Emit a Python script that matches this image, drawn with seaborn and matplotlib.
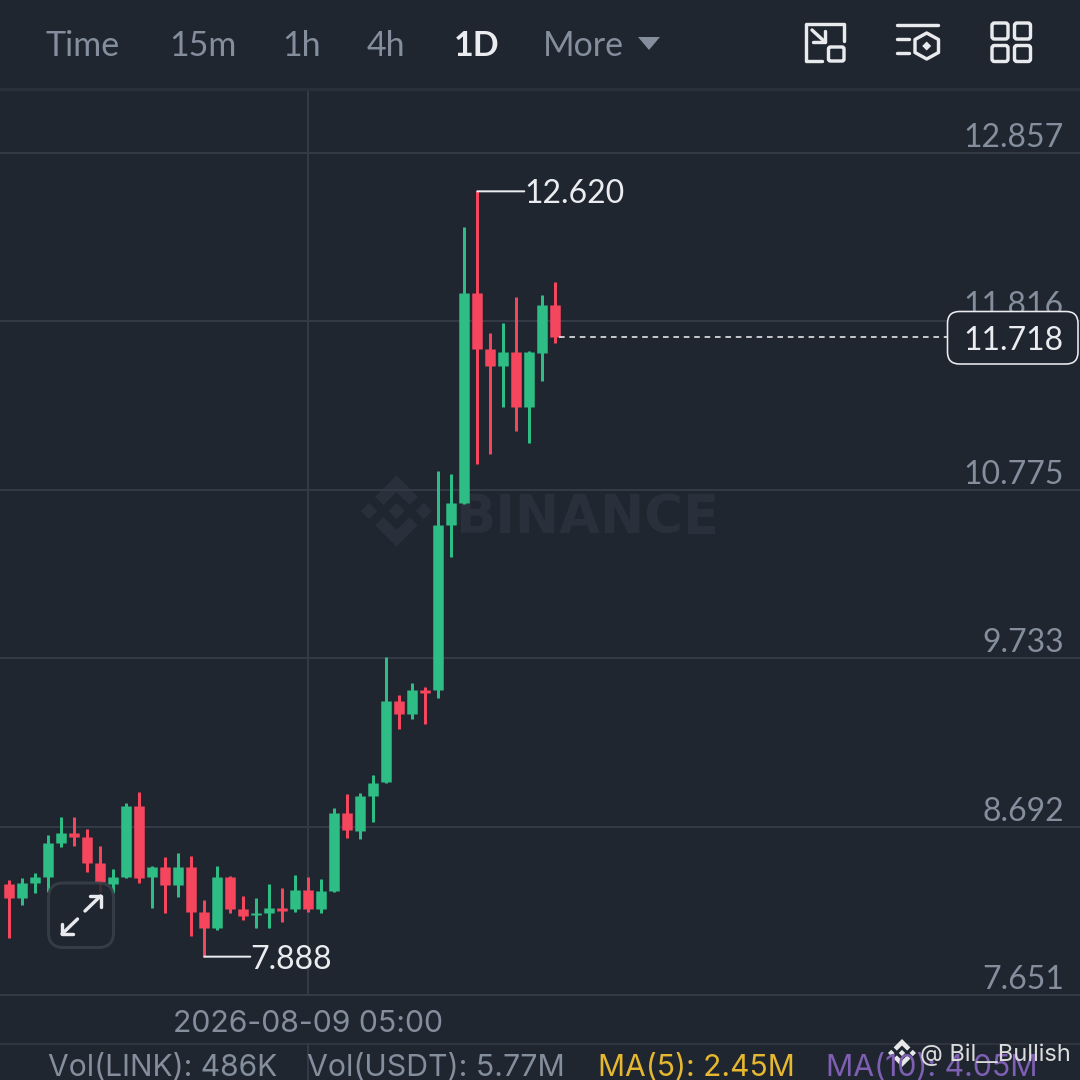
import numpy as np
import pandas as pd
import seaborn as sns
import matplotlib.pyplot as plt
from matplotlib.patches import FancyBboxPatch, Polygon

# daily candles, oldest first
opens = [8.531, 8.337, 8.249, 8.342, 8.379, 8.589, 8.655, 8.626, 8.465, 8.337, 8.379, 8.822, 8.379, 8.440,
         8.331, 8.445, 8.166, 8.063, 8.379, 8.181, 8.144, 8.156, 8.189, 8.183, 8.300, 8.181, 8.296, 8.774,
         8.667, 8.883, 8.966, 9.467, 9.388, 9.537, 9.537, 10.555, 10.691, 11.990, 11.647, 11.542, 11.627,
         11.288, 11.622, 11.917]
highs = [8.540, 8.362, 8.372, 8.403, 8.640, 8.754, 8.750, 8.675, 8.572, 8.432, 8.836, 8.908, 8.449, 8.506,
         8.527, 8.511, 8.238, 8.449, 8.387, 8.263, 8.249, 8.335, 8.311, 8.393, 8.383, 8.366, 8.805, 8.892,
         8.898, 9.011, 9.743, 9.506, 9.582, 9.554, 10.891, 10.872, 12.401, 12.620, 11.742, 11.808, 11.965,
         11.631, 11.979, 12.058]
lows = [8.330, 8.001, 8.208, 8.284, 8.286, 8.564, 8.572, 8.410, 8.290, 8.280, 8.372, 8.346, 8.187, 8.156,
        8.259, 8.018, 7.888, 8.053, 8.156, 8.115, 8.063, 8.063, 8.100, 8.162, 8.166, 8.160, 8.286, 8.620,
        8.616, 8.723, 8.962, 9.294, 9.356, 9.327, 9.485, 10.361, 10.687, 10.934, 10.996, 11.288, 11.140,
        11.066, 11.449, 11.680]
closes = [8.342, 8.249, 8.346, 8.379, 8.589, 8.655, 8.626, 8.465, 8.352, 8.379, 8.822, 8.372, 8.440, 8.331,
          8.445, 8.166, 8.063, 8.379, 8.183, 8.142, 8.160, 8.187, 8.173, 8.300, 8.181, 8.294, 8.774, 8.671,
          8.881, 8.964, 9.467, 9.388, 9.537, 9.520, 10.557, 10.691, 11.990, 11.647, 11.542, 11.627, 11.288,
          11.625, 11.917, 11.718]

price_ticks = [12.857, 11.816, 10.775, 9.733, 8.692, 7.651]
price_labels = ["12.857", "11.816", "10.775", "9.733", "8.692", "7.651"]
high_label = "12.620"
low_label = "7.888"
last_label = "11.718"
date_label = "2026-08-09 05:00"
intervals = ["Time", "15m", "1h", "4h", "1D", "More"]

BG = "#1f2630"
GRID = "#333a45"
GREEN = "#2ebd85"
RED = "#f6465d"
MUTED = "#848e9c"
LIGHT = "#eaecef"
NUM_FONT = ["Lato", "DejaVu Sans"]

sns.set_theme(style="dark", rc={"figure.facecolor": BG, "axes.facecolor": BG})
plt.rcParams["font.family"] = ["Inter", "DejaVu Sans"]

df = pd.DataFrame({"day": np.arange(len(opens)) - 1, "open": opens, "high": highs, "low": lows, "close": closes})
df["direction"] = np.where(df["close"] >= df["open"], "up", "down")
palette = {"up": GREEN, "down": RED}

wicks = df.melt(id_vars=["day", "direction"], value_vars=["low", "high"], value_name="price")
bodies = df.melt(id_vars=["day", "direction"], value_vars=["open", "close"], value_name="price")

fig = plt.figure(figsize=(10.8, 10.8), dpi=100)

# overlays work in image pixels, chart axes in days and prices
back = fig.add_axes([0, 0, 1, 1], zorder=0)
ax = fig.add_axes([0, 0, 1, 1], zorder=1)
front = fig.add_axes([0, 0, 1, 1], zorder=2)
for a in (back, front):
    a.set_xlim(0, 1080)
    a.set_ylim(1080, 0)
    a.axis("off")
ax.patch.set_alpha(0)


def px(n):
    return n * 0.72


def binance_logo(a, cx, cy, r, color, alpha=1.0, zorder=2):
    top = [(0, -0.53), (-0.37, -0.17), (-0.6, -0.4), (0, -1), (0.6, -0.4), (0.37, -0.17)]
    bottom = [(x, -y) for x, y in top]
    shapes = [top, bottom]
    for ox, half in [(0, 0.23), (-0.77, 0.23), (0.77, 0.23)]:
        shapes.append([(ox, -half), (ox + half, 0), (ox, half), (ox - half, 0)])
    for s in shapes:
        pts = [(cx + x * r, cy + y * r) for x, y in s]
        a.add_patch(Polygon(pts, closed=True, fc=color, ec="none", alpha=alpha, zorder=zorder))


# watermark under the grid
binance_logo(back, 396.5, 511, 35.5, "#2a303b")
back.text(455, 512, "BINANCE", color="#2a303b", fontsize=38, fontweight="bold", family="DejaVu Sans",
          va="center_baseline", ha="left")

# candles
sns.lineplot(data=wicks, x="day", y="price", units="day", estimator=None, hue="direction", palette=palette,
             sort=False, legend=False, linewidth=px(3), solid_capstyle="butt", ax=ax, zorder=3)
sns.lineplot(data=bodies, x="day", y="price", units="day", estimator=None, hue="direction", palette=palette,
             sort=False, legend=False, linewidth=px(10.5), solid_capstyle="butt", ax=ax, zorder=4)

ax.set_xlim(-9.3 / 13, (1080 - 9.3) / 13)
per_px = (price_ticks[0] - price_ticks[-1]) / (995 - 153)
ax.set_ylim(price_ticks[-1] - 85 * per_px, price_ticks[-1] + 995 * per_px)
ax.set_xlabel("")
ax.set_ylabel("")
ax.set_xticks([])
ax.set_yticks(price_ticks)
ax.set_yticklabels([])
ax.tick_params(left=False, right=False)
ax.grid(axis="y", color=GRID, lw=px(2), zorder=1)
sns.despine(ax=ax, left=True, bottom=True)
ax.vlines(23, price_ticks[-1], price_ticks[-1] + (995 - 88) * per_px, color=GRID, lw=px(2), zorder=1)
ax.vlines(23, price_ticks[-1] - 85 * per_px, price_ticks[-1] - 48 * per_px, color=GRID, lw=px(2), zorder=1)

for tick, label in zip(price_ticks, price_labels):
    ax.annotate(label, xy=(1, tick), xycoords=("axes fraction", "data"), xytext=(px(-16), px(15)),
                textcoords="offset points", ha="right", va="center", color=MUTED, fontsize=23, family=NUM_FONT)

# high and low markers
for day, price, label, reach in [(36, 12.620, high_label, 47), (15, 7.888, low_label, 46)]:
    ax.annotate("", xy=(day, price), xytext=(px(reach), 0), textcoords="offset points",
                arrowprops=dict(arrowstyle="-", color=LIGHT, lw=px(2), shrinkA=0, shrinkB=0))
    ax.annotate(label, xy=(day, price), xytext=(px(reach), px(-3)), textcoords="offset points", va="center",
                ha="left", color=LIGHT, fontsize=23, family=NUM_FONT)

# last price line and tag
ax.hlines(11.718, 42.3, (947 - 9.3) / 13, color=LIGHT, lw=px(1.6), linestyles=(0, (3.5, 3)), zorder=5)
front.add_patch(FancyBboxPatch((947.5, 311.5), 130.5, 52.5, boxstyle="round,pad=0,rounding_size=12", fc=BG, ec=LIGHT,
                               lw=px(1.6), mutation_aspect=1))
front.text(1013.5, 341, last_label, color=LIGHT, fontsize=23, family=NUM_FONT, ha="center", va="center")

# top bar
for label, x in zip(intervals, [46, 169, 282, 367, 454, 543]):
    is_on = label == "1D"
    front.text(x, 46, label, color=LIGHT if is_on else MUTED, fontsize=24.5, family=NUM_FONT,
               fontweight="bold" if is_on else "normal", ha="left", va="center")
front.add_patch(Polygon([(638, 37), (660, 37), (649, 50)], closed=True, fc=MUTED, ec="none"))
front.plot([0, 1080], [88.5, 88.5], color="#2a303b", lw=px(3))
front.plot([0, 1080], [1043.5, 1043.5], color=GRID, lw=px(1.5))

ICON = "#e8eaed"
icon_kw = dict(color=ICON, lw=px(3.4), solid_capstyle="round", solid_joinstyle="round")
front.plot([822, 806, 806, 844, 844], [61, 61, 23.5, 23.5, 41], **icon_kw)
front.add_patch(FancyBboxPatch((828.5, 47), 15.5, 14, boxstyle="round,pad=0,rounding_size=2", fc="none", ec=ICON, lw=px(3.4)))
front.plot([812, 825], [30, 42], **icon_kw)
front.plot([813, 825, 825], [42, 42, 31], **icon_kw)

front.plot([897, 938], [24.5, 24.5], **icon_kw)
front.plot([897, 909], [39, 39], **icon_kw)
front.plot([897, 909], [52.5, 52.5], **icon_kw)
hexagon = [(926.7, 33), (938.5, 39.5), (938.5, 52.5), (926.7, 59), (915, 52.5), (915, 39.5)]
front.add_patch(Polygon(hexagon, closed=True, fc="none", ec=ICON, lw=px(3.4), joinstyle="round"))
front.add_patch(Polygon([(926.7, 41.5), (931.2, 46), (926.7, 50.5), (922.2, 46)], closed=True, fc=ICON, ec="none"))

for x0 in (992, 1014.5):
    for y0 in (23, 45.5):
        front.add_patch(FancyBboxPatch((x0, y0), 16, 16, boxstyle="round,pad=0,rounding_size=2.5", fc="none",
                                       ec=ICON, lw=px(3.4)))

# expand button
front.add_patch(FancyBboxPatch((48.5, 883), 65, 64.5, boxstyle="round,pad=0,rounding_size=15", fc=BG, ec="#3a404a",
                               lw=px(3), alpha=0.85))
front.plot([85, 100.5], [911, 896], **icon_kw)
front.plot([90, 100.5, 100.5], [896, 896, 906.5], **icon_kw)
front.plot([77.5, 62], [919, 934], **icon_kw)
front.plot([62, 62, 72.5], [923.5, 934, 934], **icon_kw)

# footer
front.text(173, 1024, date_label, color=MUTED, fontsize=21.8, ha="left", va="center")
front.text(48, 1068, "Vol(LINK): 486K", color=MUTED, fontsize=21.6, ha="left", va="center")
front.text(307, 1068, "Vol(USDT): 5.77M", color=MUTED, fontsize=21.8, ha="left", va="center")
front.text(598, 1068, "MA(5): 2.45M", color="#e6b730", fontsize=21.6, ha="left", va="center")
front.text(826, 1068, "MA(10): 4.05M", color="#7e5fb2", fontsize=21.8, ha="left", va="center")

binance_logo(front, 902, 1053, 14, "#e8e8e8")
front.text(920, 1055, "@ Bil__Bullish", color="#dcdcdc", fontsize=17, ha="left", va="center")

fig.savefig("out.png", dpi=100, facecolor=BG)
